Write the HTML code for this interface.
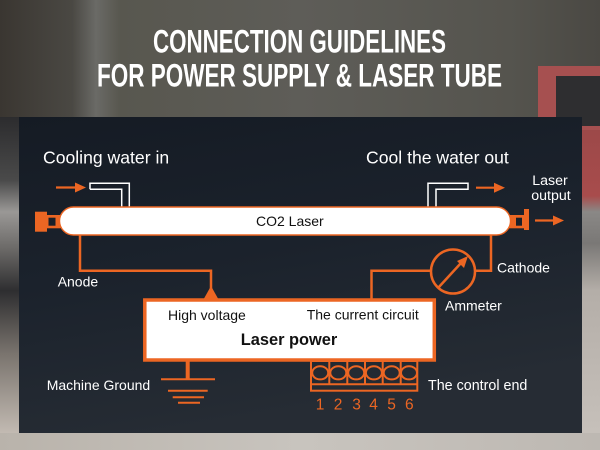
<!DOCTYPE html>
<html><head><meta charset="utf-8"><style>
html,body{margin:0;padding:0;}
body{width:600px;height:450px;overflow:hidden;position:relative;background:#55544f;}
svg{position:absolute;left:0;top:0;}
</style></head><body>
<svg width="600" height="450" viewBox="0 0 600 450" xmlns="http://www.w3.org/2000/svg">
<defs>
<linearGradient id="bgTop" x1="0" y1="0" x2="1" y2="0">
<stop offset="0" stop-color="#3a3631"/>
<stop offset="0.12" stop-color="#4a4843"/>
<stop offset="0.16" stop-color="#6a6a66"/>
<stop offset="0.2" stop-color="#58574f"/>
<stop offset="0.5" stop-color="#5e5d58"/>
<stop offset="0.85" stop-color="#55544e"/>
<stop offset="1" stop-color="#4a4843"/>
</linearGradient>
<linearGradient id="bgBot" x1="0" y1="0" x2="1" y2="0">
<stop offset="0" stop-color="#b9b3ab"/>
<stop offset="0.5" stop-color="#c8c4be"/>
<stop offset="1" stop-color="#bdb8b2"/>
</linearGradient>
<linearGradient id="panel" x1="0" y1="0" x2="0.3" y2="1">
<stop offset="0" stop-color="#151b24"/>
<stop offset="0.5" stop-color="#1b222c"/>
<stop offset="1" stop-color="#262c34"/>
</linearGradient>
<linearGradient id="leftStrip" x1="0" y1="0" x2="0" y2="1">
<stop offset="0" stop-color="#2c2c2e"/>
<stop offset="0.2" stop-color="#4a4a4a"/>
<stop offset="0.3" stop-color="#9a9896"/>
<stop offset="0.42" stop-color="#6a6866"/>
<stop offset="0.55" stop-color="#2e2e30"/>
<stop offset="0.75" stop-color="#7a746e"/>
<stop offset="1" stop-color="#c2bab2"/>
</linearGradient>
<linearGradient id="rightStrip" x1="0" y1="0" x2="0" y2="1">
<stop offset="0" stop-color="#9a4848"/>
<stop offset="0.25" stop-color="#a84c4c"/>
<stop offset="0.3" stop-color="#8a8886"/>
<stop offset="0.4" stop-color="#7a7876"/>
<stop offset="0.55" stop-color="#b4aea8"/>
<stop offset="1" stop-color="#c6c0ba"/>
</linearGradient>
</defs>

<!-- background -->
<rect x="0" y="0" width="600" height="450" fill="url(#bgTop)"/>
<rect x="0" y="433" width="600" height="17" fill="url(#bgBot)"/>
<rect x="0" y="117" width="19" height="316" fill="url(#leftStrip)"/>
<rect x="582" y="117" width="18" height="316" fill="url(#rightStrip)"/>
<rect x="538" y="66" width="62" height="64" fill="#a65050"/>
<rect x="556" y="76" width="44" height="50" fill="#2e2e30"/>

<!-- panel -->
<rect x="19" y="117" width="563" height="316" fill="url(#panel)"/>

<!-- title -->
<g font-family="'Liberation Sans Narrow','Liberation Sans',sans-serif" font-weight="bold" font-size="32.5" fill="#ffffff">
<text x="153" y="52.7" textLength="293" lengthAdjust="spacingAndGlyphs">CONNECTION GUIDELINES</text>
<text x="97" y="86.7" textLength="405" lengthAdjust="spacingAndGlyphs">FOR POWER SUPPLY &amp; LASER TUBE</text>
</g>

<!-- white pipes -->
<g fill="none" stroke="#ffffff" stroke-width="1.5">
<path d="M90,189.3 V183.3 H129.3 V207"/>
<path d="M90,189.3 H121.7 V207"/>
<path d="M428,207 V183.3 H468 V189.3 H436 V207"/>
</g>

<!-- orange arrows -->
<g stroke="#ec6623" stroke-width="2.2" fill="#ec6623">
<line x1="56" y1="187.5" x2="78" y2="187.5"/>
<polygon points="75,182.5 86,187.5 75,192.5" stroke="none"/>
<line x1="476" y1="187.7" x2="497" y2="187.7"/>
<polygon points="494,182.7 505,187.7 494,192.7" stroke="none"/>
<line x1="535" y1="220.5" x2="556" y2="220.5"/>
<polygon points="553,215.5 564,220.5 553,225.5" stroke="none"/>
</g>

<!-- end caps -->
<rect x="35" y="211.7" width="12" height="20" fill="#ec6623"/>
<rect x="46.5" y="215" width="14" height="13.3" fill="#ec6623"/>
<rect x="48.5" y="217.7" width="7" height="8" fill="#1a2029"/>
<rect x="506" y="215" width="18" height="13.3" fill="#ec6623"/>
<rect x="516" y="217.7" width="6" height="8" fill="#1a2029"/>
<rect x="524" y="209" width="5" height="21" fill="#ec6623"/>

<!-- tube -->
<rect x="59.5" y="207" width="451" height="28" rx="14" ry="14" fill="#ffffff" stroke="#ec6623" stroke-width="1.4"/>
<text x="256" y="226" font-family="'Liberation Sans',sans-serif" font-size="14" fill="#111">CO2 Laser</text>

<!-- wires -->
<g fill="none" stroke="#ec6623" stroke-width="2.5">
<path d="M80,235.5 V270.7 H211 V290"/>
<path d="M431,270.7 H371.5 V299"/>
<path d="M475,270.7 H491 V235.5"/>
<circle cx="453" cy="271.5" r="22"/>
<line x1="438" y1="288" x2="461" y2="263"/>
</g>
<polygon points="468,256 457,261 464,268" fill="#ec6623"/>
<polygon points="211,286 204,298.5 218,298.5" fill="#ec6623"/>

<!-- laser power box -->
<rect x="144.8" y="300" width="289.5" height="60" fill="#ffffff" stroke="#ec6623" stroke-width="3.5"/>
<g font-family="'Liberation Sans',sans-serif" font-size="14" fill="#111">
<text x="168" y="320">High voltage</text>
<text x="306.7" y="319.5">The current circuit</text>
<text x="289" y="345" text-anchor="middle" font-weight="bold" font-size="16.4">Laser power</text>
</g>

<!-- ground -->
<g stroke="#ec6623" fill="none">
<line x1="187.7" y1="361" x2="187.7" y2="379" stroke-width="4"/>
<line x1="161" y1="379.3" x2="215" y2="379.3" stroke-width="2"/>
<line x1="168" y1="390.7" x2="207.7" y2="390.7" stroke-width="2"/>
<line x1="172.7" y1="397.3" x2="204" y2="397.3" stroke-width="2"/>
<line x1="178" y1="402.7" x2="200" y2="402.7" stroke-width="2"/>
</g>

<!-- control connector -->
<g stroke="#ec6623" fill="none" stroke-width="2">
<rect x="311" y="361" width="106.3" height="29.7"/>
<line x1="311" y1="384.3" x2="417.3" y2="384.3"/>
<line x1="329.3" y1="361" x2="329.3" y2="384.3"/>
<line x1="347.3" y1="361" x2="347.3" y2="384.3"/>
<line x1="365" y1="361" x2="365" y2="384.3"/>
<line x1="382.7" y1="361" x2="382.7" y2="384.3"/>
<line x1="400.7" y1="361" x2="400.7" y2="384.3"/>
<ellipse cx="320.2" cy="372.8" rx="8" ry="6.6"/>
<ellipse cx="338.3" cy="372.8" rx="8" ry="6.6"/>
<ellipse cx="356.2" cy="372.8" rx="8" ry="6.6"/>
<ellipse cx="373.9" cy="372.8" rx="8" ry="6.6"/>
<ellipse cx="391.7" cy="372.8" rx="8" ry="6.6"/>
<ellipse cx="409" cy="372.8" rx="8" ry="6.6"/>
</g>
<g font-family="'Liberation Sans',sans-serif" font-size="15.5" fill="#ec6623" text-anchor="middle">
<text x="320" y="409.3">1</text>
<text x="338" y="409.3">2</text>
<text x="356.5" y="409.3">3</text>
<text x="373.5" y="409.3">4</text>
<text x="391.5" y="409.3">5</text>
<text x="409.3" y="409.3">6</text>
</g>

<!-- white labels -->
<g font-family="'Liberation Sans',sans-serif" fill="#ffffff">
<text x="43" y="163.3" font-size="17.6">Cooling water in</text>
<text x="366" y="163.3" font-size="17.6">Cool the water out</text>
<text x="550" y="185" font-size="14.2" text-anchor="middle">Laser</text>
<text x="551" y="200" font-size="14.2" text-anchor="middle">output</text>
<text x="57.7" y="286.7" font-size="14">Anode</text>
<text x="497" y="272.7" font-size="14">Cathode</text>
<text x="445" y="310.7" font-size="14">Ammeter</text>
<text x="46.7" y="390" font-size="14">Machine Ground</text>
<text x="428" y="390" font-size="14.3">The control end</text>
</g>
</svg>
</body></html>
